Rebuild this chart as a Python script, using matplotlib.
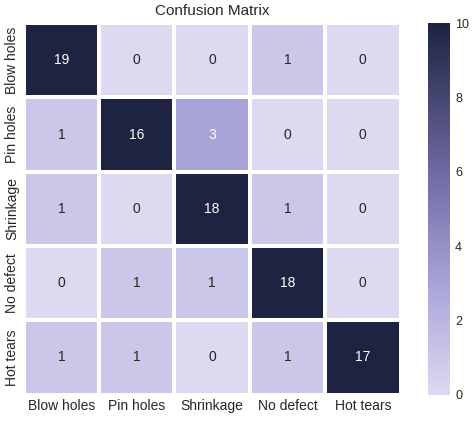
import matplotlib
matplotlib.use("Agg")
import matplotlib.pyplot as plt
import numpy as np
import seaborn as sns
from matplotlib.colors import LinearSegmentedColormap

labels = ["Blow holes", "Pin holes", "Shrinkage", "No defect", "Hot tears"]
matrix = np.array([
    [19, 0, 0, 1, 0],
    [1, 16, 3, 0, 0],
    [1, 0, 18, 1, 0],
    [0, 1, 1, 18, 0],
    [1, 1, 0, 1, 17],
])

sns.set_theme(style="darkgrid")
plt.rcParams["font.family"] = ["Liberation Sans", "DejaVu Sans"]

cmap = LinearSegmentedColormap.from_list(
    "lav", [(0, "#dcd9f1"), (0.3, "#a8a3d7"), (0.6, "#6e6aa2"), (1, "#1d2340")]
)

fig = plt.figure(figsize=(4.74, 4.22), dpi=100)
ax = fig.add_axes([0.05, 0.065, 0.795, 0.88])
cax = fig.add_axes([0.903, 0.065, 0.047, 0.88])
sns.heatmap(matrix, annot=True, fmt="d", cmap=cmap, vmin=0, vmax=10,
            linewidths=1.5, linecolor="white", xticklabels=labels,
            yticklabels=labels, ax=ax, cbar_ax=cax, annot_kws={"size": 10})
cax.tick_params(labelsize=9, length=0)
for s in cax.spines.values():
    s.set_visible(False)
ax.tick_params(labelsize=10, length=0)
ax.set_title("Confusion Matrix", fontsize=11)
plt.setp(ax.get_yticklabels(), rotation=90, va="center")
fig.savefig("out.png", dpi=100)
